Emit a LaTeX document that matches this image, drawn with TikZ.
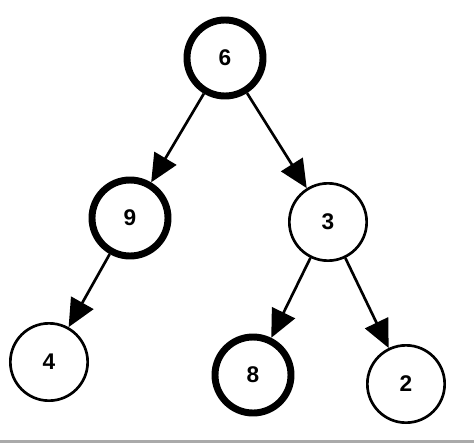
\documentclass[tikz,border=0pt]{standalone}
\usepackage{fontspec}
\setmainfont{Liberation Sans}
\usepackage{xcolor}
\usepackage{tikz}
\usetikzlibrary{arrows.meta}
\definecolor{rulegray}{RGB}{170,170,170}

\begin{document}
\begin{tikzpicture}[
  x=0.75pt, y=-0.75pt,
  vertex/.style={circle, draw, line width=2pt, minimum size=58pt, inner sep=0pt,
                 font=\fontsize{17}{19}\selectfont\bfseries},
  marked/.style={vertex, line width=5.2pt, minimum size=57pt},
  arrow/.style={-{Triangle[length=21pt, width=19pt]}, line width=2pt}
]
  \useasboundingbox (0,0) rectangle (474,443);
  \node[marked] (n6) at (225,58) {6};
  \node[marked] (n9) at (130,218) {9};
  \node[vertex] (n3) at (328,222) {3};
  \node[vertex] (n4) at (49,362) {4};
  \node[marked] (n8) at (253,375) {8};
  \node[vertex] (n2) at (406,384) {2};
  \draw[arrow] (n6) -- (n9);
  \draw[arrow] (n6) -- (n3);
  \draw[arrow] (n9) -- (n4);
  \draw[arrow] (n3) -- (n8);
  \draw[arrow] (n3) -- (n2);
  % rule along the bottom
  \coordinate (ruleL) at (0,441.5);
  \coordinate (ruleR) at (474,441.5);
  \draw[rulegray, line width=2pt] (ruleL) -- (ruleR);
\end{tikzpicture}
\end{document}
